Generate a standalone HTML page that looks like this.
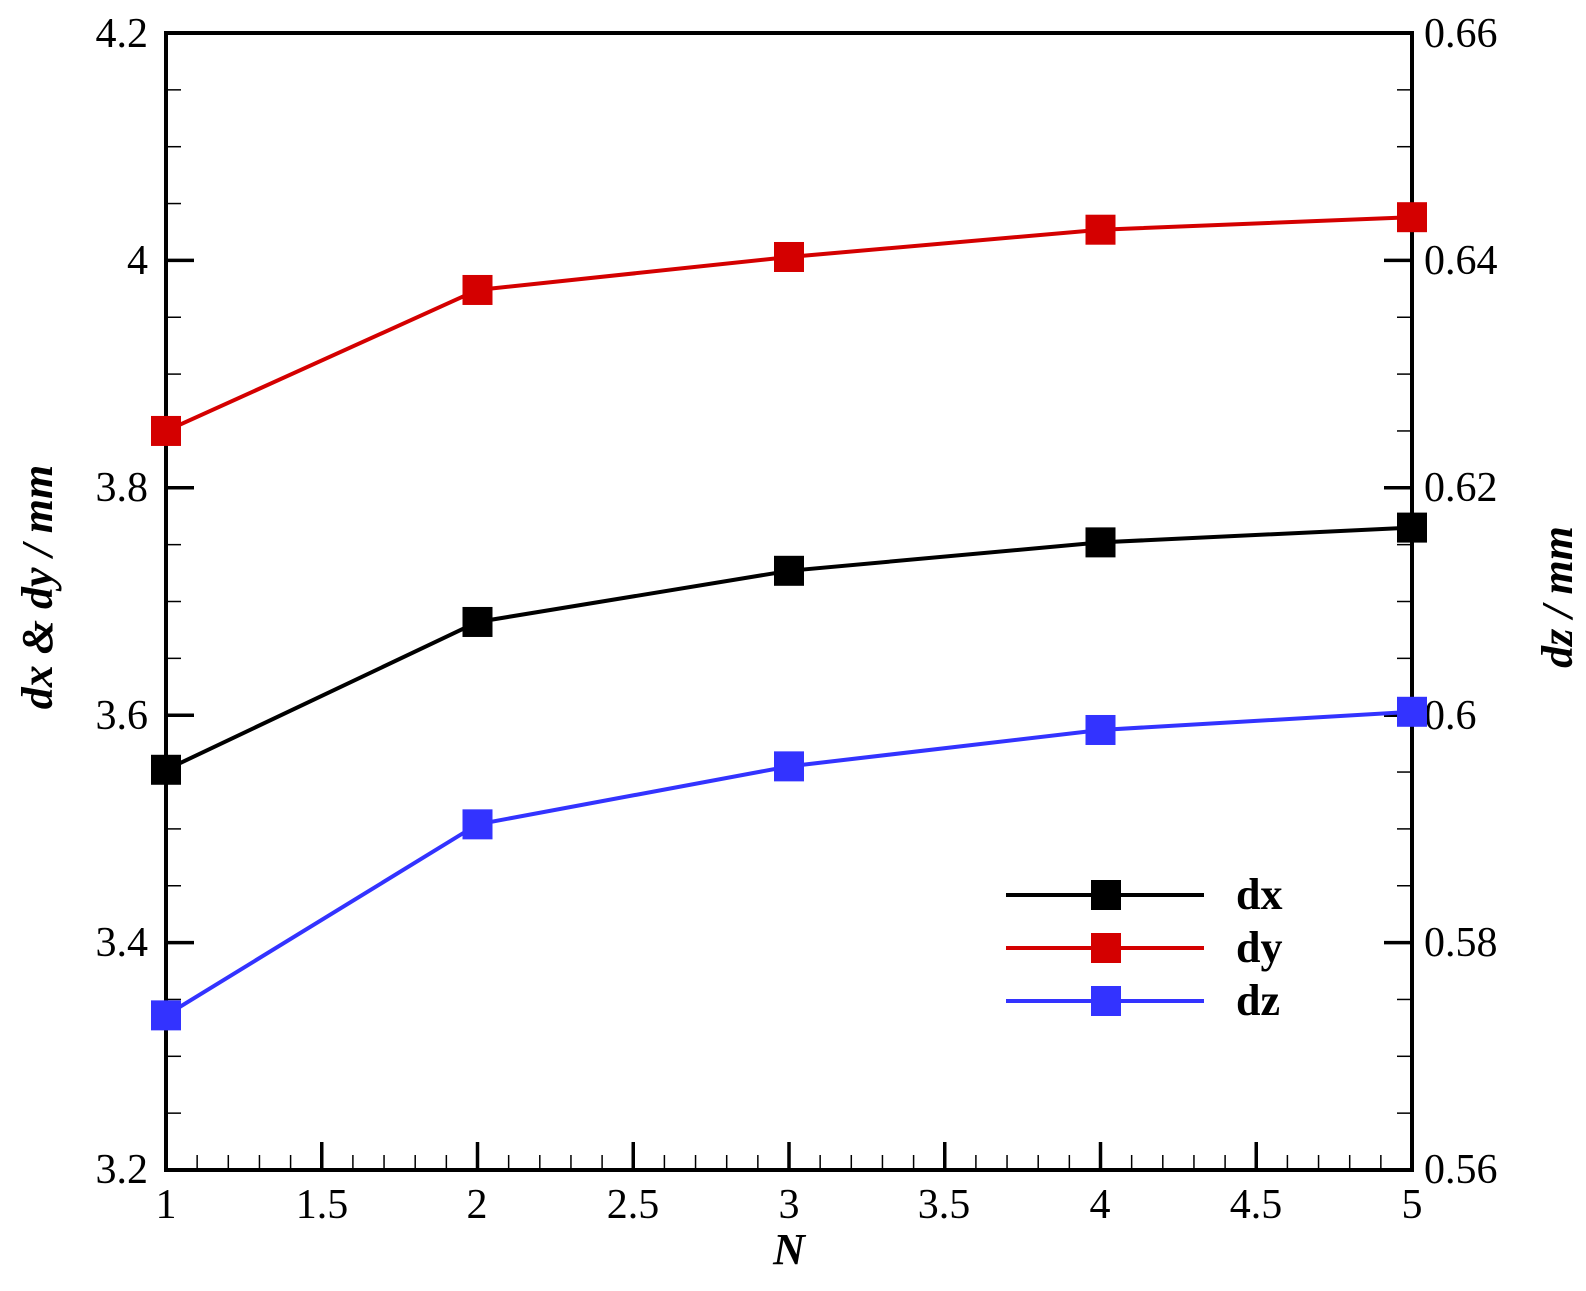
<!DOCTYPE html>
<html><head><meta charset="utf-8"><style>body{margin:0;background:#fff}</style></head><body>
<svg width="1586" height="1286" xmlns="http://www.w3.org/2000/svg" font-family="Liberation Serif, serif">
<g id="ticks" stroke="#000">
</g>
<script>
const g=document.getElementById('ticks');const ns='http://www.w3.org/2000/svg';
function L(x1,y1,x2,y2,w){const l=document.createElementNS(ns,'line');l.setAttribute('x1',x1);l.setAttribute('y1',y1);l.setAttribute('x2',x2);l.setAttribute('y2',y2);l.setAttribute('stroke-width',w);g.appendChild(l);}
const X=n=>166+(n-1)*311.5, Y=v=>33+(4.2-v)*1137;
for(let i=0;i<=20;i++){const y=Y(3.2+i*0.05);const maj=i%4==0;const len=maj?28:15,w=maj?3.5:1.5;L(166,y,166+len,y,w);L(1412,y,1412-len,y,w);}
for(let i=0;i<=40;i++){const x=X(1+i*0.1);const maj=i%5==0;const len=maj?28:15,w=maj?3.5:1.5;L(x,1170,x,1170-len,w);}
</script>
<rect x="166" y="33" width="1246" height="1137" fill="none" stroke="#000" stroke-width="4"/>
<g font-size="42" text-anchor="end">
<text x="148" y="47">4.2</text><text x="148" y="274">4</text><text x="148" y="501">3.8</text><text x="148" y="729">3.6</text><text x="148" y="956">3.4</text><text x="148" y="1183">3.2</text>
</g>
<g font-size="42" text-anchor="start">
<text x="1424" y="47">0.66</text><text x="1424" y="274">0.64</text><text x="1424" y="501">0.62</text><text x="1424" y="729">0.6</text><text x="1424" y="956">0.58</text><text x="1424" y="1183">0.56</text>
</g>
<g font-size="42" text-anchor="middle">
<text x="166" y="1218">1</text><text x="322" y="1218">1.5</text><text x="477" y="1218">2</text><text x="633" y="1218">2.5</text><text x="789" y="1218">3</text><text x="944" y="1218">3.5</text><text x="1100" y="1218">4</text><text x="1256" y="1218">4.5</text><text x="1412" y="1218">5</text>
</g>
<text x="789" y="1264" font-size="44" font-weight="bold" font-style="italic" text-anchor="middle">N</text>
<text transform="translate(52,587) rotate(-90)" font-size="44" font-weight="bold" font-style="italic" text-anchor="middle">dx &amp; dy / mm</text>
<text transform="translate(1572,597) rotate(-90)" font-size="44" font-weight="bold" font-style="italic" text-anchor="middle">dz / mm</text>
<g id="series"></g>
<script>
const s=document.getElementById('series');
const data=[['#d40000',[3.850,3.974,4.003,4.027,4.038]],['#000',[3.552,3.682,3.727,3.752,3.765]],['#3333ff',[3.336,3.504,3.555,3.587,3.603]]];
for(const [c,vs] of data){const pl=document.createElementNS(ns,'polyline');pl.setAttribute('points',vs.map((v,i)=>X(i+1)+','+Y(v)).join(' '));pl.setAttribute('fill','none');pl.setAttribute('stroke',c);pl.setAttribute('stroke-width',4);s.appendChild(pl);
vs.forEach((v,i)=>{const r=document.createElementNS(ns,'rect');r.setAttribute('x',X(i+1)-15);r.setAttribute('y',Y(v)-15);r.setAttribute('width',30);r.setAttribute('height',30);r.setAttribute('fill',c);s.appendChild(r);});}
</script>
<g stroke-width="4">
<line x1="1006" y1="895" x2="1204" y2="895" stroke="#000"/><rect x="1091" y="880" width="30" height="30" fill="#000"/>
<line x1="1006" y1="948" x2="1204" y2="948" stroke="#d40000"/><rect x="1091" y="933" width="30" height="30" fill="#d40000"/>
<line x1="1006" y1="1001" x2="1204" y2="1001" stroke="#3333ff"/><rect x="1091" y="986" width="30" height="30" fill="#3333ff"/>
</g>
<g font-size="44" font-weight="bold">
<text x="1236" y="909">dx</text><text x="1236" y="962">dy</text><text x="1236" y="1015">dz</text>
</g>
</svg>
</body></html>
